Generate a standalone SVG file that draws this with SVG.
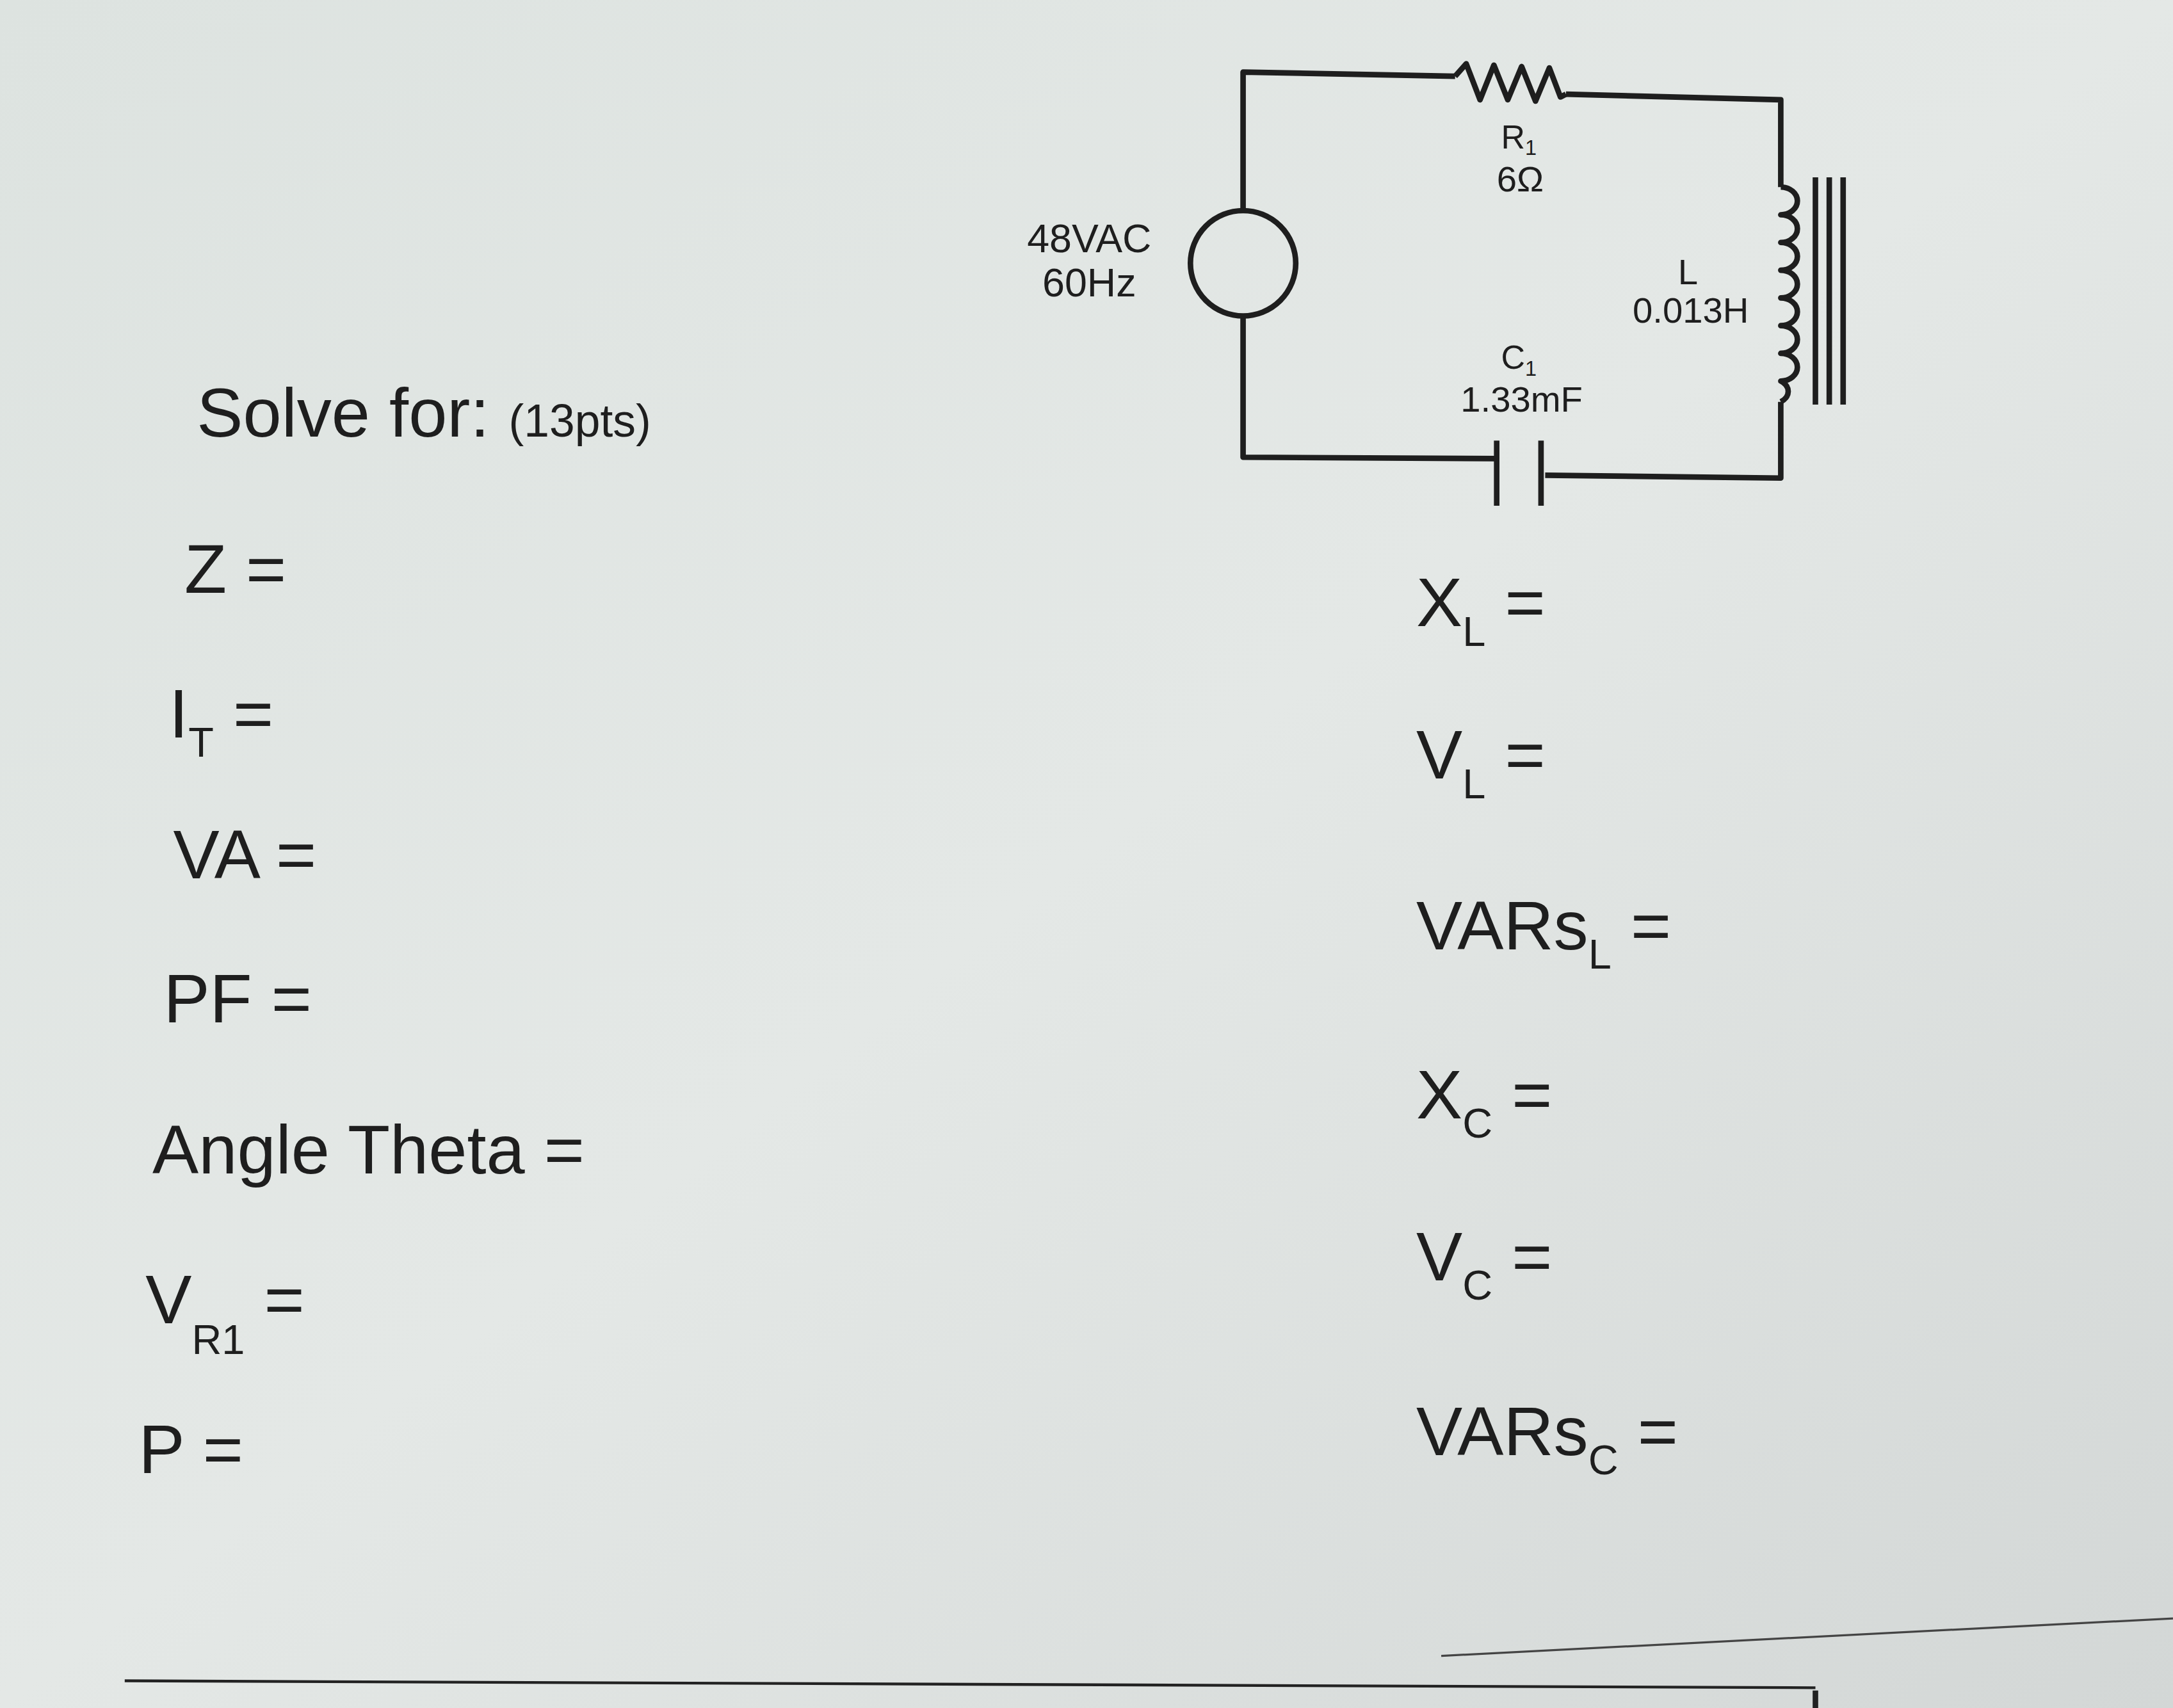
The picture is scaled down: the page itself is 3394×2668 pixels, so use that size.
<svg xmlns="http://www.w3.org/2000/svg" width="3394" height="2668" viewBox="0 0 3394 2668">
<defs>
<linearGradient id="bg" x1="0" y1="0" x2="1" y2="1">
<stop offset="0" stop-color="#dde3e0"/><stop offset="0.5" stop-color="#e4e8e6"/><stop offset="1" stop-color="#d3d7d6"/>
</linearGradient>
<style>
.t{font-family:"Liberation Sans",Arial,sans-serif;fill:#1e1e1e}
.w{fill:none;stroke:#1e1e1e;stroke-width:4;stroke-linejoin:round}
</style>
</defs>
<rect width="3394" height="2668" fill="url(#bg)"/>
<g transform="scale(2.1645)">
<g id="connectors">
<polyline class="w" points="1050,55 897,52 897,152"/>
<polyline class="w" points="897,228 897,330 1080,331"/>
<polyline class="w" points="1130,68 1285,72 1285,135"/>
<polyline class="w" points="1285,290 1285,345 1115,343"/>
<line x1="90" y1="1213" x2="1310" y2="1218" stroke="#222" stroke-width="2"/>
<line x1="1310" y1="1220" x2="1310" y2="1233" stroke="#222" stroke-width="4"/>
<line x1="1040" y1="1195" x2="1568" y2="1168" stroke="#444" stroke-width="1.5"/>
</g>
<g id="source"><circle class="w" cx="897" cy="190" r="38"/>
<text class="t" x="786" y="182" font-size="29" text-anchor="middle">48VAC</text>
<text class="t" x="786" y="214" font-size="29" text-anchor="middle">60Hz</text></g>
<g id="resistor"><polyline class="w" points="1050,55 1058,46 1068,72 1078,47 1088,72 1098,48 1108,73 1118,49 1126,70 1130,68"/>
<text class="t" x="1096" y="107" font-size="24" text-anchor="middle">R<tspan font-size="15" dy="5">1</tspan></text>
<text class="t" x="1097" y="138" font-size="26" text-anchor="middle">6Ω</text></g>
<g id="inductor"><path class="w" d="M1285,135 a12,10 0 0 1 0,20 a12,10 0 0 1 0,20 a12,10 0 0 1 0,20 a12,10 0 0 1 0,20 a12,10 0 0 1 0,20 a12,10 0 0 1 0,20 a12,10 0 0 1 0,20 a12,9 0 0 1 0,15"/>
<line class="w" x1="1310" y1="128" x2="1310" y2="292"/><line class="w" x1="1320" y1="128" x2="1320" y2="292"/><line class="w" x1="1330" y1="128" x2="1330" y2="292"/>
<text class="t" x="1218" y="205" font-size="26" text-anchor="middle">L</text>
<text class="t" x="1220" y="233" font-size="26" text-anchor="middle">0.013H</text></g>
<g id="capacitor"><line class="w" x1="1080" y1="318" x2="1080" y2="365"/><line class="w" x1="1112" y1="318" x2="1112" y2="365"/>
<text class="t" x="1096" y="266" font-size="24" text-anchor="middle">C<tspan font-size="15" dy="5">1</tspan></text>
<text class="t" x="1098" y="297" font-size="26" text-anchor="middle">1.33mF</text></g>
<g id="text">
<text class="t" x="142" y="315" font-size="50">Solve for: <tspan font-size="33">(13pts)</tspan></text>
<text class="t" x="133" y="428" font-size="50">Z =</text>
<text class="t" x="122" y="532" font-size="50">I<tspan font-size="30" dy="14">T</tspan><tspan dy="-14"> =</tspan></text>
<text class="t" x="125" y="634" font-size="50">VA =</text>
<text class="t" x="118" y="738" font-size="50">PF =</text>
<text class="t" x="110" y="847" font-size="50">Angle Theta =</text>
<text class="t" x="105" y="955" font-size="50">V<tspan font-size="30" dy="22">R1</tspan><tspan dy="-22"> =</tspan></text>
<text class="t" x="100" y="1063" font-size="50">P =</text>
<text class="t" x="1022" y="452" font-size="50">X<tspan font-size="30" dy="14">L</tspan><tspan dy="-14"> =</tspan></text>
<text class="t" x="1022" y="562" font-size="50">V<tspan font-size="30" dy="14">L</tspan><tspan dy="-14"> =</tspan></text>
<text class="t" x="1022" y="685" font-size="50">VARs<tspan font-size="30" dy="14">L</tspan><tspan dy="-14"> =</tspan></text>
<text class="t" x="1022" y="807" font-size="50">X<tspan font-size="30" dy="14">C</tspan><tspan dy="-14"> =</tspan></text>
<text class="t" x="1022" y="924" font-size="50">V<tspan font-size="30" dy="14">C</tspan><tspan dy="-14"> =</tspan></text>
<text class="t" x="1022" y="1050" font-size="50">VARs<tspan font-size="30" dy="14">C</tspan><tspan dy="-14"> =</tspan></text>
</g>
</g>
</svg>
